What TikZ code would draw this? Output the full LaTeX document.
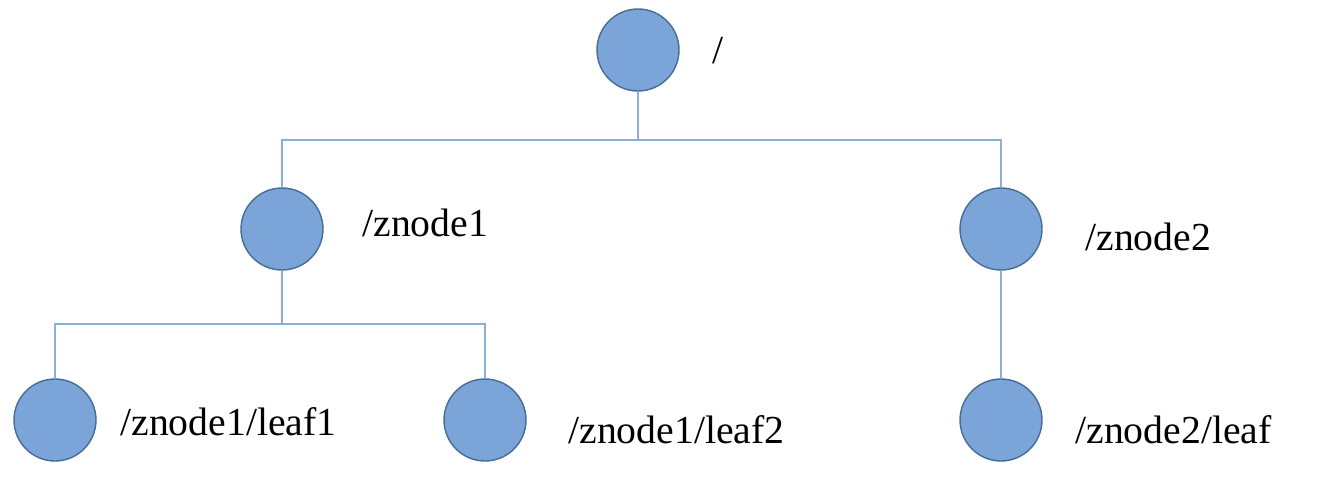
\documentclass[tikz,border=0pt]{standalone}
\usepackage{fontspec}
\setmainfont{Liberation Serif}
\definecolor{nodefill}{RGB}{123,165,216}
\definecolor{nodeedge}{RGB}{72,108,152}
\definecolor{linkcol}{RGB}{140,174,218}
\tikzset{
  zn/.style={circle, fill=nodefill, draw=nodeedge, line width=0.8pt, minimum size=1.64cm, inner sep=0pt},
  lbl/.style={anchor=base west, font=\fontsize{22.6}{26}\selectfont, inner sep=0pt},
  link/.style={draw=linkcol, line width=1pt}
}
\begin{document}
\begin{tikzpicture}[x=0.02cm,y=-0.02cm]
\useasboundingbox (0,0) rectangle (1318,480);
\node[zn] (root) at (638,50) {};
\node[zn] (z1) at (282,229) {};
\node[zn] (z2) at (1001,229) {};
\node[zn] (l1) at (55,420) {};
\node[zn] (l2) at (485,420) {};
\node[zn] (l3) at (1001,420) {};
\coordinate (j0) at (638,140);
\coordinate (j1) at (282,324);
\node[lbl] (t0) at (712,63) {/};
\node[lbl] (t1) at (362,236) {/znode1};
\node[lbl] (t2) at (1085,250) {/znode2};
\node[lbl] (t3) at (120,435) {/znode1/leaf1};
\node[lbl] (t4) at (568,443) {/znode1/leaf2};
\node[lbl] (t5) at (1075,443) {/znode2/leaf};
\draw[link] (root) -- (j0);
\draw[link] (j0) -| (z1);
\draw[link] (j0) -| (z2);
\draw[link] (z1) -- (j1);
\draw[link] (j1) -| (l1);
\draw[link] (j1) -| (l2);
\draw[link] (z2) -- (l3);
\end{tikzpicture}
\end{document}
